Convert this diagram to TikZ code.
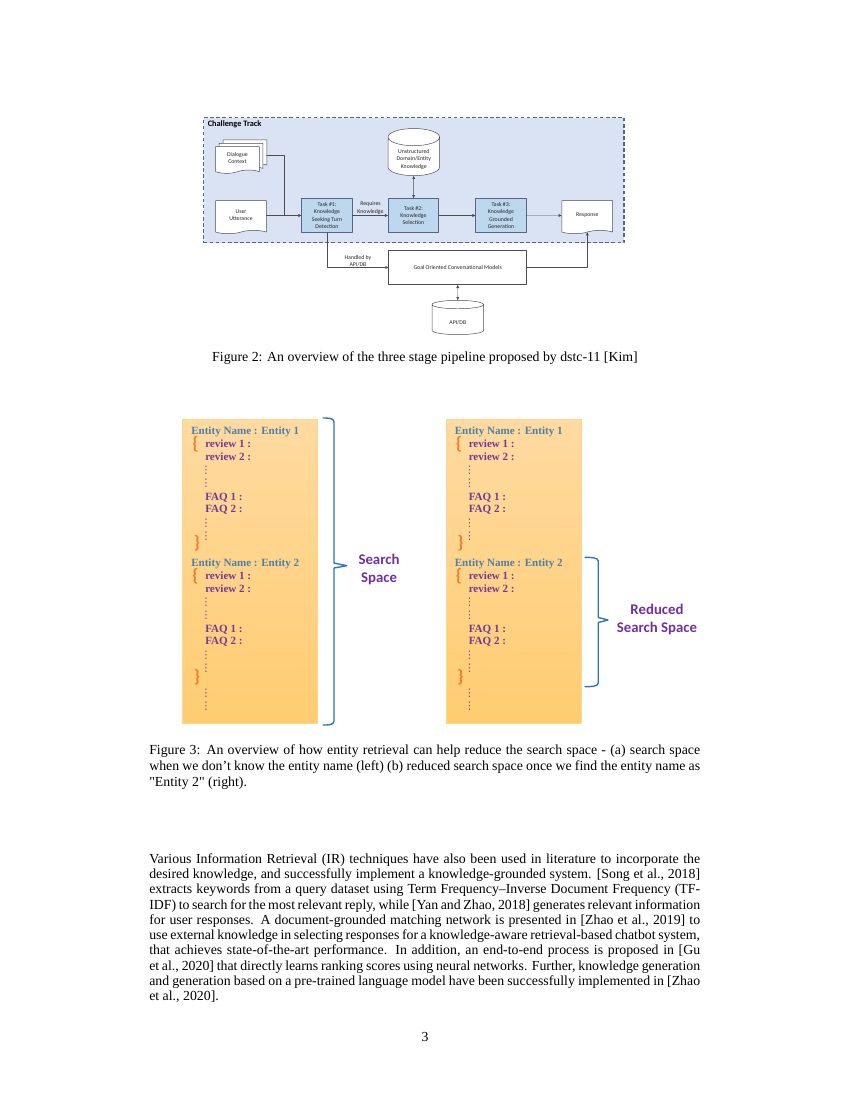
\documentclass[tikz,border=0pt]{standalone}
\usepackage{fontspec}
\usepackage{xcolor}
\usepackage{tikz}
\setmainfont{Liberation Serif}
\newfontfamily\carlito{Carlito}
\newfontfamily\plainserif{Liberation Serif}
\newfontfamily\dejavu{DejaVu Sans}
\usetikzlibrary{arrows.meta}
\usetikzlibrary{shapes.symbols}
\usetikzlibrary{shapes.geometric}
\definecolor{dae3f3}{rgb}{0.855,0.890,0.953}
\definecolor{bdd7ee}{rgb}{0.741,0.843,0.933}
\definecolor{qqblue}{rgb}{0.33,0.40,0.50}
\definecolor{edgeqq}{rgb}{0.30,0.30,0.32}
\definecolor{ffdaa0}{rgb}{1.,0.855,0.63}
\definecolor{ffcc70}{rgb}{1.,0.80,0.44}
\definecolor{entityqq}{rgb}{0.30,0.50,0.66}
\definecolor{reviewqq}{rgb}{0.45,0.22,0.60}
\definecolor{braceqq}{rgb}{0.93,0.49,0.19}
\definecolor{bracketqq}{rgb}{0.18,0.46,0.71}
\definecolor{labelqq}{rgb}{0.44,0.19,0.63}
\tikzset{
  small/.style={font=\carlito\fontsize{4.2}{5.1}\selectfont,align=center,color=black!85},
  docbox/.style={small,shape=tape,tape bend top=none,tape bend height=2.4pt,draw=edgeqq,fill=white,line width=.35pt,inner sep=0pt,outer sep=0pt,minimum width=1.29cm,minimum height=.84cm},
  taskbox/.style={small,rectangle,draw=qqblue,fill=bdd7ee,line width=.5pt,inner sep=0pt,outer sep=0pt,minimum width=1.28cm,minimum height=.87cm},
  storebox/.style={small,cylinder,shape border rotate=90,aspect=.5,draw=edgeqq,fill=white,line width=.35pt,inner sep=0pt,outer sep=0pt},
  flow/.style={->,line width=.35pt,color=edgeqq},
  entityname/.style={anchor=base west,inner sep=0pt,font=\fontsize{8}{10}\selectfont\bfseries,color=entityqq},
  reviewname/.style={anchor=base west,inner sep=0pt,font=\fontsize{8}{10}\selectfont\bfseries,color=reviewqq},
  dotsname/.style={inner sep=0pt,font=\dejavu\fontsize{7.5}{8}\selectfont,color=reviewqq},
  bracename/.style={inner sep=0pt,font=\carlito\fontsize{13}{13}\selectfont\bfseries,color=braceqq},
  bracket/.style={line width=1pt,color=bracketqq,line cap=round},
  spacelabel/.style={align=center,inner sep=0pt,font=\carlito\fontsize{10.7}{13}\selectfont\bfseries,color=labelqq},
  pagetext/.style={anchor=north west,inner sep=0pt,text width=13.995cm,align=justify,font=\fontsize{10}{11}\selectfont}
}
\begin{document}
\begin{tikzpicture}[line cap=round,line join=round,>={Latex[length=2.4pt,width=2.2pt]},x=0.0254cm,y=-0.0254cm]
\useasboundingbox (0,0) rectangle (850,1100);
\node [rectangle,draw=qqblue,dash pattern=on 2.6pt off 1.8pt,line cap=butt,fill=dae3f3,line width=.8pt,inner sep=0pt,minimum width=10.68cm,minimum height=3.18cm] (track) at (413.8,180.2) {};
\node [anchor=north west,inner sep=0pt,font=\carlito\fontsize{6}{7}\selectfont\bfseries] (tracklabel) at (207.5,120.5) {Challenge Track};
\node [docbox,minimum width=1.11cm,minimum height=.68cm] (dialogc) at (245,151.7) {};
\node [docbox,minimum width=1.11cm,minimum height=.68cm] (dialogb) at (241,155) {};
\node [docbox,minimum width=1.11cm,minimum height=.68cm] (dialog) at (237.5,158.3) {Dialogue\\Context};
\node [docbox] (user) at (241,215.5) {User\\Utterance};
\node [taskbox] (task1) at (327,215.5) {Task \#1:\\Knowledge\\Seeking Turn\\Detection};
\node [taskbox] (task2) at (413.5,215.5) {Task \#2:\\Knowledge\\Selection};
\node [taskbox] (task3) at (501,215.5) {Task \#3:\\Knowledge\\Grounded\\Generation};
\node [docbox] (response) at (587.3,215.5) {Response};
\node [storebox,minimum width=1.31cm,minimum height=.89cm] (unstructured) at (413.8,156.5) {\raisebox{-2.2pt}[\height][\depth]{\begin{tabular}{@{}c@{}}Unstructured\\Domain/Entity\\Knowledge\end{tabular}}};
\node [small] (requires) at (370.5,208) {Requires\\Knowledge};
\node [small] (handled) at (358,260.7) {Handled by\\API/DB};
\node [small,rectangle,draw=edgeqq,fill=white,line width=.5pt,inner sep=0pt,outer sep=0pt,minimum width=3.5cm,minimum height=.875cm] (goal) at (457.7,267.5) {Goal Oriented Conversational Models};
\node [storebox,minimum width=1.31cm,minimum height=.87cm] (apidb) at (457.8,319.7) {\raisebox{-2.2pt}[\height][\depth]{API/DB}};
\coordinate (dialogout) at (266.7,155.7);
\coordinate (join) at (284.3,215.5);
\draw [line width=.35pt,color=edgeqq] (dialogout) -| (join);
\draw [flow] (user.east) -- (task1.west);
\draw [flow] (task1) -- (task2);
\draw [flow] (task2) -- (task3);
\draw [flow] (task3) -- (response);
\draw [<->,line width=.35pt,color=edgeqq] (unstructured) -- (task2);
\draw [<->,line width=.35pt,color=edgeqq] (goal) -- (apidb);
\draw [flow] (task1) |- (goal);
\draw [flow] (goal) -| (response);
\node [font=\fontsize{10}{11}\selectfont,inner sep=0pt] (caption2) at (425,358) {Figure 2: An overview of the three stage pipeline proposed by dstc-11 [Kim]};
\foreach \dx/\side in {0/l,263.5/r}{
  \node [rectangle,top color=ffdaa0,bottom color=ffcc70,draw=ffcc70!80!white,line width=.3pt,inner sep=0pt,minimum width=3.43cm,minimum height=7.72cm] (\side box) at (250+\dx,571.3) {};
  \foreach \e/\ey/\ex in {1/430/113,2/562/115}{
    \node [entityname] (\side entity\e) at (191+\dx,\ey+4) {Entity Name : Entity \e};
    \node [bracename] (\side open\e) at (195.5+\dx,\ey+14.5) {\{};
    \node [reviewname] (\side reviewa\e) at (205+\dx,\ey+17.3) {review 1 :};
    \node [reviewname] (\side reviewb\e) at (205+\dx,\ey+30.7) {review 2 :};
    \node [dotsname] (\side dotsa\e) at (206+\dx,\ey+40) {⋮};
    \node [dotsname] (\side dotsb\e) at (206+\dx,\ey+53) {⋮};
    \node [reviewname] (\side faqa\e) at (205+\dx,\ey+70) {FAQ 1 :};
    \node [reviewname] (\side faqb\e) at (205+\dx,\ey+82.7) {FAQ 2 :};
    \node [dotsname] (\side dotsc\e) at (206+\dx,\ey+93) {⋮};
    \node [dotsname] (\side dotsd\e) at (206+\dx,\ey+106) {⋮};
    \node [bracename] (\side close\e) at (197+\dx,\ey+\ex) {\}};
  }
  \node [dotsname] (\side dotse) at (206+\dx,693) {⋮};
  \node [dotsname] (\side dotsf) at (206+\dx,706) {⋮};
}
\draw [bracket] (323,418) .. controls (328,418) and (334,418) .. (334,422) -- (334,563) -- (346.7,565.7) -- (334,568) -- (334,721) .. controls (334,725) and (328,725) .. (323,725);
\draw [bracket] (585,557.3) .. controls (590,557.3) and (598.3,557.3) .. (598.3,561) -- (598.3,617.5) -- (608,620) -- (598.3,622.5) -- (598.3,683) .. controls (598.3,686.7) and (590,686.7) .. (585,686.7);
\node [spacelabel] (searchspace) at (379,569) {Search\\Space};
\node [spacelabel] (reducedspace) at (657,619) {Reduced\\Search Space};
\node [pagetext,font=\fontsize{10}{11.5}\selectfont] (caption3) at (149,744.5) {Figure 3: An overview of how entity retrieval can help reduce the search space - (a) search space\linebreak when we don’t know the entity name (left) (b) reduced search space once we find the entity name as\linebreak {\plainserif"Entity 2"} (right).};
\node [pagetext] (bodytext) at (149,853.5) {Various Information Retrieval (IR) techniques have also been used in literature to incorporate the\linebreak desired knowledge, and successfully implement a knowledge-grounded system. [Song et al., 2018]\linebreak extracts keywords from a query dataset using Term Frequency–Inverse Document Frequency (TF-\linebreak IDF) to search for the most relevant reply, while [Yan and Zhao, 2018] generates relevant information\linebreak for user responses. A document-grounded matching network is presented in [Zhao et al., 2019] to\linebreak use external knowledge in selecting responses for a knowledge-aware retrieval-based chatbot system,\linebreak that achieves state-of-the-art performance. In addition, an end-to-end process is proposed in [Gu\linebreak et al., 2020] that directly learns ranking scores using neural networks. Further, knowledge generation\linebreak and generation based on a pre-trained language model have been successfully implemented in [Zhao\linebreak et al., 2020].};
\node [font=\fontsize{10}{11}\selectfont,inner sep=0pt] (pagenumber) at (425,1037) {3};
\end{tikzpicture}
\end{document}
